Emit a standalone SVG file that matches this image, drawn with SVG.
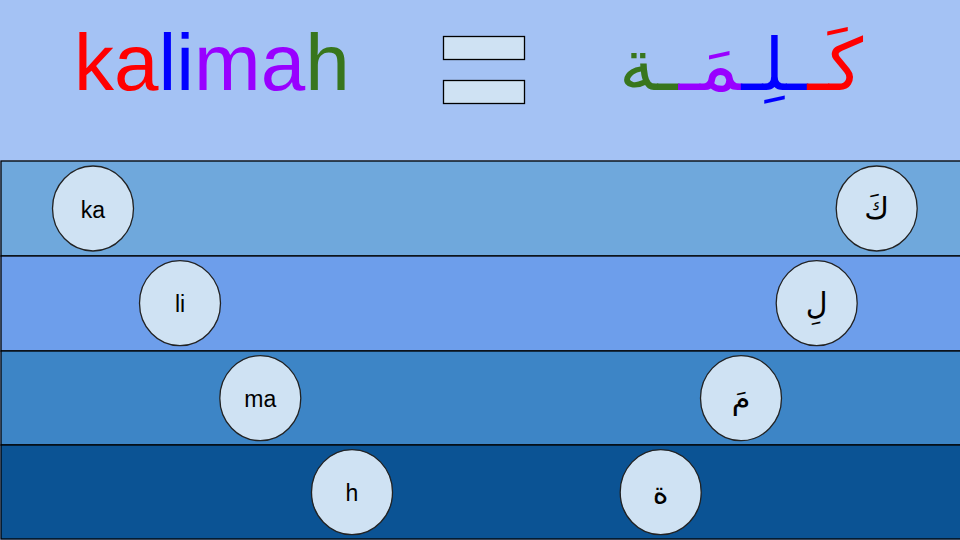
<svg xmlns="http://www.w3.org/2000/svg" width="960" height="540" viewBox="0 0 960 540">
<style>
.band{stroke:#000;stroke-width:1.3}
.circ{fill:#cfe2f3;stroke:#222;stroke-width:1.3}
.lbl{font-family:"Liberation Sans",Arial,sans-serif;font-size:23px;fill:#000;text-anchor:middle}
.ar{font-family:"DejaVu Sans","Noto Sans",sans-serif;font-size:30px;fill:#000;text-anchor:middle}
.eq{fill:#cfe2f3;stroke:#000;stroke-width:1.3}
</style>
<rect x="0" y="0" width="960" height="540" fill="#a4c2f4"/>
<g id="title-latin">
<text x="74" y="90" font-family="Liberation Sans, Arial, sans-serif" font-size="80"><tspan fill="#ff0000">ka</tspan><tspan fill="#0000ff">li</tspan><tspan fill="#9900ff">ma</tspan><tspan fill="#38761d">h</tspan></text>
</g>
<g id="equals">
<rect class="eq" x="443.5" y="36.5" width="81" height="23"/>
<rect class="eq" x="443.5" y="80.5" width="81" height="23"/>
</g>
<g id="title-arabic">
<text x="741" y="90" font-family="DejaVu Sans, Noto Sans, sans-serif" font-size="72" text-anchor="middle" direction="rtl"><tspan fill="#ff0000">كَـ</tspan><tspan fill="#0000ff">ـلِـ</tspan><tspan fill="#9900ff">مَـ</tspan><tspan fill="#38761d">ـة</tspan></text>
</g>
<g id="bands">
<rect class="band" x="1" y="161" width="960" height="95" fill="#6fa8dc"/>
<rect class="band" x="1" y="256" width="960" height="95" fill="#6d9eeb"/>
<rect class="band" x="1" y="351" width="960" height="94" fill="#3d85c6"/>
<rect class="band" x="1" y="445" width="960" height="94" fill="#0b5394"/>
</g>
<g id="node-ka"><ellipse class="circ" cx="93" cy="208.5" rx="40.5" ry="42.5"/><text class="lbl" x="93" y="217.5">ka</text></g>
<g id="node-li"><ellipse class="circ" cx="180" cy="303.2" rx="40.5" ry="42.5"/><text class="lbl" x="180" y="312">li</text></g>
<g id="node-ma"><ellipse class="circ" cx="260.3" cy="398.2" rx="40.5" ry="42.5"/><text class="lbl" x="260.3" y="407">ma</text></g>
<g id="node-h"><ellipse class="circ" cx="352" cy="492.2" rx="40.5" ry="42.5"/><text class="lbl" x="352" y="501">h</text></g>
<g id="node-kaf"><ellipse class="circ" cx="876.7" cy="208.5" rx="40.5" ry="42.5"/><text class="ar" x="876.7" y="219">كَ</text></g>
<g id="node-lam"><ellipse class="circ" cx="816.7" cy="303.2" rx="40.5" ry="42.5"/><text class="ar" x="816.7" y="314">لِ</text></g>
<g id="node-mim"><ellipse class="circ" cx="741" cy="398.2" rx="40.5" ry="42.5"/><text class="ar" x="741" y="409">مَ</text></g>
<g id="node-ta"><ellipse class="circ" cx="660.7" cy="492.2" rx="40.5" ry="42.5"/><text class="ar" x="660.7" y="503">ة</text></g>
<g id="connectors"></g>
</svg>
